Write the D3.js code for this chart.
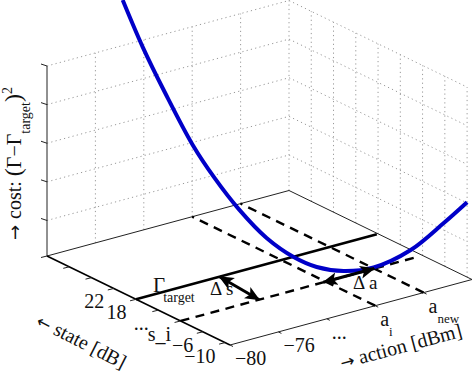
<!DOCTYPE html>
<html>
<head>
<meta charset="utf-8">
<script src="https://d3js.org/d3.v7.min.js"></script>
<style>
  body { margin: 0; background: #fff; }
  svg { display: block; }
  text { font-family: "Liberation Serif", serif; fill: #111; }
  .arrowGlyph { font-family: "DejaVu Sans", sans-serif; }
</style>
</head>
<body>
<div class="canvas"></div>
<script>
// axis ticks
const actionTicks = [-80, -76, -72, -68, -64, -60];
const actionLabels = ["\u221280", "\u221276", "...", "a", "a", ""];
const actionSubs = ["", "", "", "i", "new", ""];
const stateTicks = [0, 1, 2, 3, 4, 5, 6, 7, 8];
const stateLabels = ["", "", "", "22", "18", "...", "s_i", "\u22126", "\u221210"];
const costTicks = [0.92, 1.92, 2.92, 3.92, 4.92];

// blue cost curve
const curveAction = [-80, -78.84, -77.56, -75.93, -74.66, -73.26, -71.64, -70.07, -68.73, -67.17, -65.42, -63.28, -61.36, -60];
const curveState = [3.4, 3.67, 3.96, 4.34, 4.63, 4.95, 5.32, 5.68, 5.99, 6.35, 6.75, 7.25, 7.69, 8];
const curveCost = [7.58, 6.34, 5.15, 3.74, 2.86, 2.03, 1.25, 0.725, 0.44, 0.303, 0.36, 0.77, 1.43, 1.94];

// marked values
const stateTarget = 4;
const stateI = 6;
const actionI = -68;
const actionNew = -64;

const width = 474, height = 372;
const originX = 47, originY = 256;

const svg = d3.select(".canvas").append("svg")
    .attr("width", width)
    .attr("height", height);

// oblique projection, one scale for each screen contribution
const actionX = d3.scaleLinear().domain([-80, -60]).range([0, 242]);
const actionY = d3.scaleLinear().domain([-80, -60]).range([0, -65.5]);
const stateX = d3.scaleLinear().domain([0, 8.22]).range([0, 183]);
const stateY = d3.scaleLinear().domain([0, 8.22]).range([0, 89]);
const costY = d3.scaleLinear().domain([0, 4.92]).range([0, -190]);

const px = (a, s) => originX + actionX(a) + stateX(s);
const py = (a, s, c) => originY + actionY(a) + stateY(s) + costY(c || 0);

const line3 = d3.line().x(d => px(d[0], d[1])).y(d => py(d[0], d[1], d[2]));

const defs = svg.append("defs");
defs.append("marker")
    .attr("id", "head")
    .attr("markerUnits", "userSpaceOnUse")
    .attr("viewBox", "0 -7 15 14")
    .attr("refX", 14)
    .attr("refY", 0)
    .attr("markerWidth", 15)
    .attr("markerHeight", 14)
    .attr("orient", "auto-start-reverse")
    .append("path")
    .attr("d", "M0,-6.5L15,0L0,6.5L3.5,0Z")
    .attr("fill", "#000");

// dotted grid on the two walls
const grid = svg.append("g")
    .attr("fill", "none")
    .attr("stroke", "#999")
    .attr("stroke-width", 1)
    .attr("stroke-dasharray", "1.2,3.2");

grid.selectAll(".level").data(costTicks).enter().append("path")
    .attr("class", "level")
    .attr("d", c => line3([[-80, 0, c], [-60, 0, c], [-60, 8, c]]));

grid.selectAll(".vAction").data(actionTicks.slice(1)).enter().append("path")
    .attr("class", "vAction")
    .attr("d", a => line3([[a, 0, 0], [a, 0, 4.92]]));

grid.selectAll(".vState").data(stateTicks.slice(1)).enter().append("path")
    .attr("class", "vState")
    .attr("d", s => line3([[-60, s, 0], [-60, s, 4.92]]));

// box edges
const edges = svg.append("g").attr("fill", "none").attr("stroke", "#222");
edges.append("path").attr("stroke-width", 1).attr("d", line3([[-80, 0, 4.92], [-80, 0, 0]]));
edges.append("path").attr("stroke-width", 1).attr("d", line3([[-80, 0, 0], [-60, 0, 0], [-60, 8.22, 0], [-80, 8.22, 0]]));
edges.append("path").attr("stroke-width", 1.6).attr("stroke", "#000").attr("d", line3([[-80, 0, 0], [-80, 8.22, 0]]));

// tick marks
edges.selectAll(".costTick").data(costTicks).enter().append("line")
    .attr("class", "costTick")
    .attr("x1", px(-80, 0)).attr("y1", c => py(-80, 0, c))
    .attr("x2", px(-80, 0) - 6).attr("y2", c => py(-80, 0, c) - 2);

edges.selectAll(".stateTick").data(stateTicks).enter().append("line")
    .attr("class", "stateTick")
    .attr("x1", s => px(-80, s)).attr("y1", s => py(-80, s))
    .attr("x2", s => px(-80, s) - 6).attr("y2", s => py(-80, s) + 1.5);

edges.selectAll(".actionTick").data(actionTicks.slice(0, 5)).enter().append("line")
    .attr("class", "actionTick")
    .attr("x1", a => px(a, 8.22)).attr("y1", a => py(a, 8.22))
    .attr("x2", a => px(a, 8.22) + 3).attr("y2", a => py(a, 8.22) + 1.5);

// dashed guides
const dashes = svg.append("g")
    .attr("fill", "none")
    .attr("stroke", "#000")
    .attr("stroke-width", 2.4)
    .attr("stroke-dasharray", "9,6.5");
dashes.append("path").attr("d", line3([[-80, stateI, 0], [-60.7, stateI, 0]]));
dashes.append("path").attr("d", line3([[actionI, 8.22, 0], [actionI, 0, 0]]));
dashes.append("path").attr("d", line3([[actionNew, 8.22, 0], [actionNew, 0, 0]]));

// target line
svg.append("path")
    .attr("fill", "none")
    .attr("stroke", "#000")
    .attr("stroke-width", 2.6)
    .attr("d", line3([[-80, stateTarget, 0], [-60.1, stateTarget, 0]]));

// cost curve
const curvePoints = curveAction.map((a, i) => [a, curveState[i], curveCost[i]]);
const curveLine = d3.line()
    .x(d => px(d[0], d[1]))
    .y(d => py(d[0], d[1], d[2]))
    .curve(d3.curveCatmullRom);
svg.append("path")
    .attr("fill", "none")
    .attr("stroke", "#0000c8")
    .attr("stroke-width", 4)
    .attr("d", curveLine(curvePoints));

// delta arrows
const arrows = svg.append("g")
    .attr("fill", "none")
    .attr("stroke", "#000")
    .attr("stroke-width", 3);
arrows.append("path")
    .attr("marker-start", "url(#head)").attr("marker-end", "url(#head)")
    .attr("d", line3([[-73.1, stateTarget, 0], [-73.5, stateI, 0]]));
arrows.append("path")
    .attr("marker-start", "url(#head)").attr("marker-end", "url(#head)")
    .attr("d", line3([[actionNew, stateI, 0], [actionI - 0.2, stateI, 0]]));

// tick labels
svg.selectAll(".stateLabel").data(stateTicks).enter().append("text")
    .attr("class", "stateLabel")
    .attr("x", s => px(-80, s) - 9.5)
    .attr("y", s => py(-80, s) + 20)
    .attr("text-anchor", "end")
    .attr("font-size", 20)
    .text((s, i) => stateLabels[i]);

const actionText = svg.selectAll(".actionLabel").data(actionTicks).enter().append("text")
    .attr("class", "actionLabel")
    .attr("x", a => px(a, 8.22) + 5)
    .attr("y", a => py(a, 8.22) + 20)
    .attr("font-size", 20);
actionText.append("tspan").text((a, i) => actionLabels[i]);
actionText.append("tspan")
    .attr("dy", 10)
    .attr("font-size", 13)
    .text((a, i) => actionSubs[i]);

// annotations
const gamma = svg.append("text").attr("x", 153).attr("y", 292).attr("font-size", 21);
gamma.append("tspan").text("\u0393");
gamma.append("tspan").attr("dy", 10).attr("dx", -2).attr("font-size", 14).text("target");

svg.append("text").attr("x", 210).attr("y", 295).attr("font-size", 19).text("\u0394 s");
svg.append("text").attr("x", 353).attr("y", 289).attr("font-size", 19).text("\u0394 a");

// axis titles
const stateTitle = svg.append("text")
    .attr("transform", "translate(35,325) rotate(27)")
    .attr("font-size", 20);
stateTitle.append("tspan").attr("class", "arrowGlyph").attr("font-size", 17).text("\u2190");
stateTitle.append("tspan").attr("dx", 5).text("state [dB]");

const actionTitle = svg.append("text")
    .attr("transform", "translate(342,369) rotate(-15)")
    .attr("font-size", 20);
actionTitle.append("tspan").attr("class", "arrowGlyph").attr("font-size", 17).text("\u2192");
actionTitle.append("tspan").attr("dx", 5).text("action [dBm]");

const costTitle = svg.append("text")
    .attr("transform", "translate(21,240) rotate(-90)")
    .attr("font-size", 20);
costTitle.append("tspan").attr("class", "arrowGlyph").attr("font-size", 18).text("\u2192");
costTitle.append("tspan").attr("dx", 6).text("cost: ");
costTitle.append("tspan").attr("font-size", 24).text("(");
costTitle.append("tspan").text("\u0393\u2212\u0393");
costTitle.append("tspan").attr("dy", 9).attr("font-size", 14).text("target");
costTitle.append("tspan").attr("dy", -9).attr("font-size", 24).text(")");
costTitle.append("tspan").attr("dy", -9).attr("font-size", 14).text("2");
</script>
</body>
</html>
